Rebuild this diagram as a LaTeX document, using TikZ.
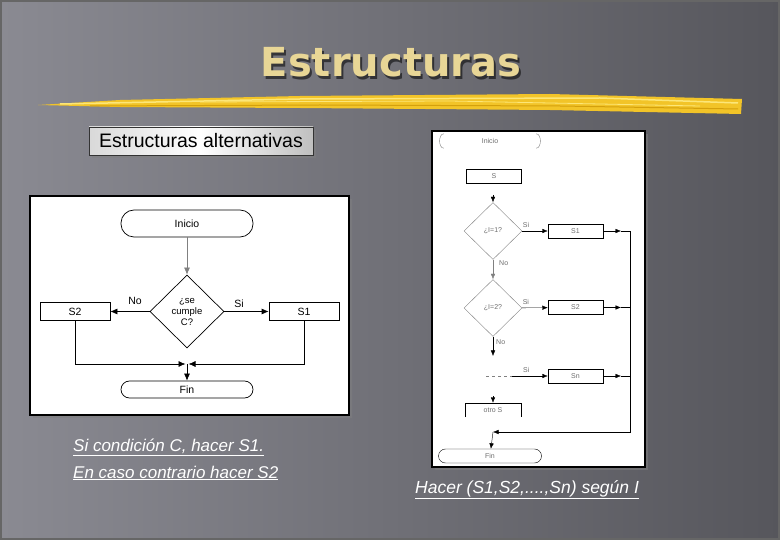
\documentclass[tikz,border=0pt]{standalone}
\usepackage{fontspec}
\setmainfont{Liberation Sans}
\newfontfamily\titlefont{DejaVu Sans}
\definecolor{fondoA}{RGB}{138,138,146}
\definecolor{fondoB}{RGB}{86,86,92}
\definecolor{titulo}{RGB}{232,214,150}
\definecolor{pincel}{RGB}{242,196,40}
\definecolor{pincelc}{RGB}{252,230,120}
\definecolor{pinceld}{RGB}{212,160,12}
\definecolor{tenue}{RGB}{110,110,110}
\usetikzlibrary{positioning}
\usetikzlibrary{shapes.geometric}
\usetikzlibrary{shadows}
\usetikzlibrary{arrows.meta}

\begin{document}
\begin{tikzpicture}
			[x=1pt,y=-1pt,>={Latex[length=7pt,width=6pt]},every node/.style={inner sep=0pt},
			 term/.style={draw, line width=0.7pt, rounded corners=13pt, minimum width=132pt, minimum height=27pt, font=\fontsize{10.5}{12}\selectfont},
			 proc/.style={draw, line width=0.7pt, minimum width=70pt, minimum height=18pt, font=\fontsize{10.5}{12}\selectfont},
			 cond/.style={diamond, draw, line width=0.7pt, minimum width=74pt, minimum height=73pt, align=center, font=\fontsize{9.5}{11}\selectfont},
			 procb/.style={draw, minimum width=55pt, minimum height=14pt, font=\fontsize{7}{8}\selectfont, text=tenue},
			 condb/.style={diamond, draw=gray, minimum width=58pt, minimum height=57pt, font=\fontsize{7}{8}\selectfont, text=tenue},
			 etiq/.style={font=\fontsize{10.5}{12}\selectfont},
			 etiqb/.style={font=\fontsize{7}{8}\selectfont, text=tenue},
			 leyenda/.style={anchor=west, text=white, font=\fontsize{17}{20}\selectfont\itshape}]
			% fondo
			\shade [left color=fondoA, right color=fondoB] (0,0) rectangle (780,540);
			\draw [line width=2pt, color=black!60] (1,1) rectangle (779,539);
			% titulo y pincel
			\node (sombra) [font=\titlefont\bfseries\fontsize{40}{48}\selectfont, text=black, opacity=0.55] at (393,65) {Estructuras};
			\node (titulo) [font=\titlefont\bfseries\fontsize{40}{48}\selectfont, text=titulo] at (391,62) {Estructuras};
			\fill [color=pincel] (38,105) -- (120,100) -- (300,96) -- (550,94) -- (742,99) -- (741,114) -- (550,110) -- (300,108) -- (120,107) -- cycle;
			\draw [color=pincelc, line width=1.5pt] (60,104) -- (300,99) -- (600,98) -- (738,103);
			\draw [color=pinceld, line width=1pt] (90,106) -- (320,105) -- (560,106) -- (738,109);
			\draw [color=pincelc, line width=0.8pt] (200,102) -- (450,101) -- (700,106);
			% subtitulo
			\node (subtitulo) [draw=black!80, left color=gray!30, right color=gray!50, middle color=white, drop shadow, minimum width=224pt, minimum height=28pt, font=\fontsize{19.5}{22}\selectfont] at (201,141) {Estructuras alternativas};
			% diagrama izquierdo
			\draw [fill=white, line width=1.5pt, drop shadow] (30,196) rectangle (349,415);
			\node (inicio) [term] at (187,223.5) {Inicio};
			\node (pregunta) [cond] at (187,311.5) {¿se\\cumple\\C?};
			\node (s2) [proc] at (75,311.5) {S2};
			\node (s1) [proc] at (304,311.5) {S1};
			\node (fin) [term, rounded corners=8.5pt, minimum height=17pt] at (187,389.5) {Fin};
			\coordinate (junta) at (187,364);
			\draw [->, color=gray, line width=0.7pt] (inicio) -- (pregunta);
			\draw [->, line width=0.7pt] (pregunta) -- node[etiq, pos=0.37, above=7pt] {No} (s2);
			\draw [->, line width=0.7pt] (pregunta) -- node[etiq, pos=0.33, above=4pt] {Si} (s1);
			\draw [->, line width=0.7pt] (s2) |- ([xshift=-1.5pt]junta);
			\draw [->, line width=0.7pt] (s1) |- ([xshift=1.5pt]junta);
			\draw [->, line width=0.7pt] (junta) -- (fin);
			% diagrama derecho
			\draw [fill=white, line width=1.2pt, drop shadow] (432,131) rectangle (645,467);
			\node (inicioB) [minimum width=104pt, minimum height=14pt, font=\fontsize{7}{8}\selectfont, text=tenue] at (490,141) {Inicio};
			\draw [color=gray] ([xshift=6pt]inicioB.north west) to[out=180,in=180] ([xshift=6pt]inicioB.south west);
			\draw [color=gray] ([xshift=-6pt]inicioB.north east) to[out=0,in=0] ([xshift=-6pt]inicioB.south east);
			\node (leerI) [procb] at (494,176) {S};
			\node (igual1) [condb] at (493,231) {¿I=1?};
			\node (caso1) [procb] at (575.5,231) {S1};
			\node (igual2) [condb] at (493,308) {¿I=2?};
			\node (caso2) [procb] at (575.5,307.5) {S2};
			\node (cason) [procb] at (575.5,376) {Sn};
			\node (otro) [minimum width=55pt, minimum height=14pt, font=\fontsize{7}{8}\selectfont, text=tenue] at (493,410) {otro S};
			\draw (otro.south west) -- (otro.north west) -- (otro.north east) -- (otro.south east);
			\node (finB) [draw, rounded corners=7pt, minimum width=103pt, minimum height=14pt, font=\fontsize{7}{8}\selectfont, text=tenue] at (490,456) {Fin};
			\coordinate (flecha1) at (493,195);
			\coordinate (baja2) at (493,356);
			\coordinate (puntos) at (486,376);
			\coordinate (puntosb) at (512,376);
			\coordinate (flecha4) at (493,396);
			\coordinate (m1) at (621,231);
			\coordinate (m2) at (621,307.5);
			\coordinate (mn) at (621,376);
			\coordinate (col1) at (630,231);
			\coordinate (col2) at (630,307.5);
			\coordinate (coln) at (630,376);
			\coordinate (vuelta) at (493,432);
			\begin{scope}[>={Latex[length=5.5pt,width=4.5pt]}]
			\draw [->] (flecha1) -- (igual1);
			\draw [->] (igual1) -- node[etiqb, pos=0.15, above=3pt] {Si} (caso1);
			\draw [->, color=gray] (igual1) -- node[etiqb, pos=0.2, right=6pt] {No} (igual2);
			\draw [->] (igual2) -- node[etiqb, pos=0.15, above=3pt] {Si} (caso2);
			\draw [->] (igual2) -- node[etiqb, pos=0.3, right=3pt] {No} (baja2);
			\draw [dashed, color=gray] (puntos) -- (puntosb);
			\draw [->] (puntosb) -- node[etiqb, pos=0.4, above=3pt] {Si} (cason);
			\draw [->] (flecha4) -- (otro);
			\draw [->] (caso1) -- (m1);
			\draw [->] (caso2) -- (m2);
			\draw [->] (cason) -- (mn);
			\draw (m2) -- (col2);
			\draw (mn) -- (coln);
			\draw [->] (m1) -- (col1) |- (vuelta);
			\draw [->] (vuelta) -- (finB);
			\end{scope}
			% leyendas
			\node (leyenda1) [leyenda] at (73,447) {\underline{Si condición C, hacer S1.}};
			\node (leyenda2) [leyenda] at (73,473) {\underline{En caso contrario hacer S2}};
			\node (leyenda3) [leyenda, font=\fontsize{17.5}{20}\selectfont\itshape] at (415,490) {\underline{Hacer (S1,S2,....,Sn) según I}};
		\end{tikzpicture}
\end{document}
